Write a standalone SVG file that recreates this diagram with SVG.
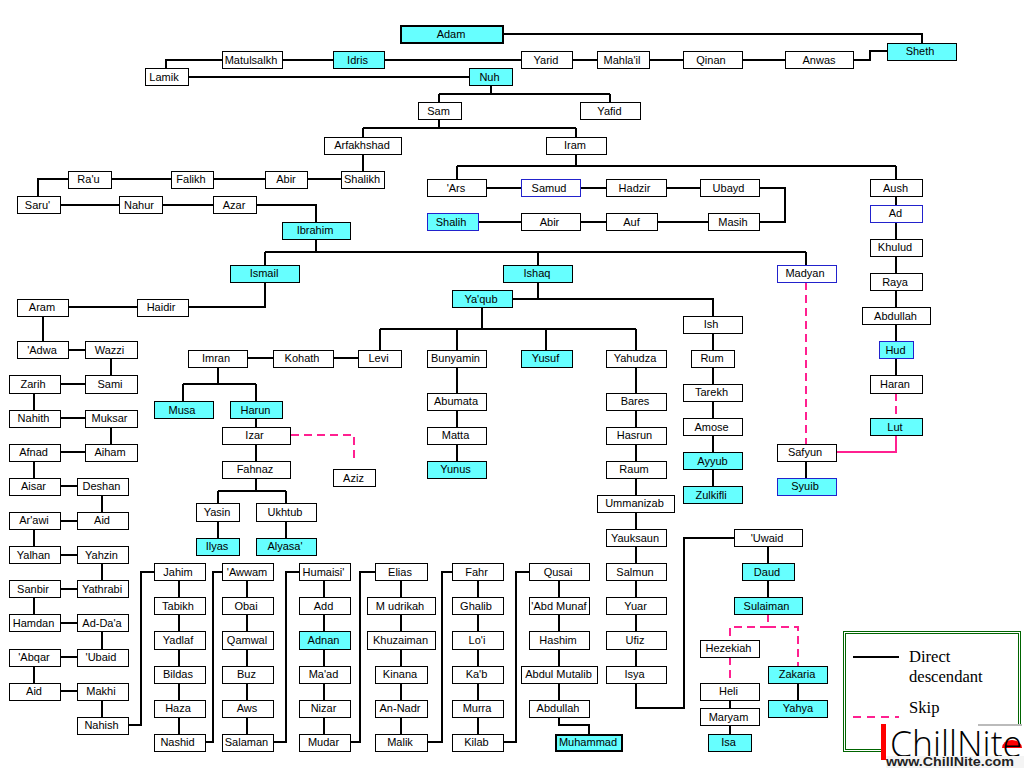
<svg xmlns="http://www.w3.org/2000/svg" width="1024" height="768" viewBox="0 0 1024 768">
<style>
text{font-family:"Liberation Sans",Arial,sans-serif;font-size:11px;fill:#000;text-anchor:middle}
rect.n{fill:#fff;stroke:#000;stroke-width:1}
rect.c{fill:#66ffff}
rect.b{stroke:#2222cc}
rect.t{stroke-width:2}
.k path{fill:none;stroke:#000;stroke-width:2}
.p path{fill:none;stroke:#ff2090;stroke-width:2}
.d path{stroke-dasharray:8 5}
.lg{font-family:"Liberation Serif","Times New Roman",serif;font-size:16.6px;text-anchor:start}
</style>
<rect width="1024" height="768" fill="#fff"/>
<g id="connectors">
<g class="k"><path d="M503 34H922V43M887 51H870V60H853M853 60H222M222 60H166V68M188 77H469M491 85V94M439 94H610M439 94V102M610 94V102M439 119V128M363 128H576M363 128V137M576 128V137M363 154V171M341 179H68M68 179H38V196M60 205H256M256 205H316V222M576 154V166M457 166H896M457 166V179M896 166V179M486 188H700M700 188H785V222H759M759 222H478M896 196V205M896 222V375"/>
<path d="M806 461V478M316 239V252M265 252H806M265 252V265M538 252V265M806 252V265M265 282V307H68M43 316V341M68 350H85M111 358V375M60 384H85M34 393V410M60 418H85M111 427V444M60 452H85M34 461V478M60 486H77M102 495V512M60 521H77M34 529V546M60 555H77M102 563V580M60 589H77M34 597V614M60 623H77M102 631V649M60 657H77M34 666V683M60 691H77M102 700V717"/>
<path d="M128 725H141V572H154M179 580V734M205 742H213V572H222M247 580V734M273 742H286V572H299M324 580V734M350 742H360V572H375M401 580V734M427 742H442V572H452M478 580V734M503 742H516V572H529M559 580V717M559 717V725H589V734"/>
<path d="M538 282V299M512 299H713V316M482 307V329M380 329H636M380 329V350M457 329V350M546 329V350M636 329V350M457 367V461M636 367V683M636 683V708H684V538H734M768 546V597M730 700V708M730 725V734M798 683V700M713 333V486M247 358H358M218 367V384M183 384H256M183 384V401M256 384V401M256 418V461M256 478V491M218 491H286M218 491V503M286 491V503M218 521V538M286 521V538"/></g>
<g class="p"><path d="M896 435V452H836"/></g>
<g class="p d"><path d="M896 393V418M806 282V444M768 614V627M768 627H730V640M768 627H798V666M730 657V683M291 435H354V463"/></g>
</g>
<g id="n-adam"><rect class="n c t" x="401" y="26" width="102" height="17"/><text x="451" y="38">Adam</text></g>
<g id="n-sheth"><rect class="n c" x="887.5" y="43.5" width="69" height="17"/><text x="920" y="55">Sheth</text></g>
<g id="n-matulsalkh"><rect class="n" x="222.5" y="51.5" width="60" height="17"/><text x="251" y="64">Matulsalkh</text></g>
<g id="n-idris"><rect class="n c" x="333.5" y="51.5" width="51" height="17"/><text x="357.5" y="64">Idris</text></g>
<g id="n-yarid"><rect class="n" x="521.5" y="51.5" width="51" height="17"/><text x="546" y="64">Yarid</text></g>
<g id="n-mahlail"><rect class="n" x="597.5" y="51.5" width="52" height="17"/><text x="622" y="64">Mahla'il</text></g>
<g id="n-qinan"><rect class="n" x="683.5" y="51.5" width="59" height="17"/><text x="711" y="64">Qinan</text></g>
<g id="n-anwas"><rect class="n" x="785.5" y="51.5" width="68" height="17"/><text x="819" y="64">Anwas</text></g>
<g id="n-lamik"><rect class="n" x="145.5" y="68.5" width="43" height="17"/><text x="164" y="81">Lamik</text></g>
<g id="n-nuh"><rect class="n c" x="469.5" y="68.5" width="43" height="17"/><text x="489.500" y="81">Nuh</text></g>
<g id="n-sam"><rect class="n" x="418.500" y="102.500" width="43" height="17"/><text x="438.500" y="115">Sam</text></g>
<g id="n-yafid"><rect class="n" x="580.500" y="102.500" width="60" height="17"/><text x="609.500" y="115">Yafid</text></g>
<g id="n-arfakhshad"><rect class="n" x="324.500" y="137.500" width="77" height="17"/><text x="362" y="149">Arfakhshad</text></g>
<g id="n-iram"><rect class="n" x="546.500" y="137.500" width="60" height="17"/><text x="575" y="149">Iram</text></g>
<g id="n-shalikh"><rect class="n" x="341.500" y="171.500" width="43" height="17"/><text x="362" y="183">Shalikh</text></g>
<g id="n-abir"><rect class="n" x="265.500" y="171.500" width="42" height="17"/><text x="286" y="183">Abir</text></g>
<g id="n-falikh"><rect class="n" x="171.500" y="171.500" width="42" height="17"/><text x="191" y="183">Falikh</text></g>
<g id="n-rau"><rect class="n" x="68.500" y="171.500" width="43" height="17"/><text x="88.500" y="183">Ra'u</text></g>
<g id="n-ars"><rect class="n" x="427.500" y="179.500" width="59" height="17"/><text x="456" y="192">'Ars</text></g>
<g id="n-samud"><rect class="n b" x="521.500" y="179.500" width="59" height="17"/><text x="549" y="192">Samud</text></g>
<g id="n-hadzir"><rect class="n" x="606.500" y="179.500" width="60" height="17"/><text x="634.500" y="192">Hadzir</text></g>
<g id="n-ubayd"><rect class="n" x="700.500" y="179.500" width="59" height="17"/><text x="728.500" y="192">Ubayd</text></g>
<g id="n-aush"><rect class="n" x="870.500" y="179.500" width="52" height="17"/><text x="895.500" y="192">Aush</text></g>
<g id="n-saru"><rect class="n" x="17.500" y="196.500" width="43" height="17"/><text x="37.500" y="209">Saru'</text></g>
<g id="n-nahur"><rect class="n" x="119.500" y="196.500" width="43" height="17"/><text x="139" y="209">Nahur</text></g>
<g id="n-azar"><rect class="n" x="213.500" y="196.500" width="43" height="17"/><text x="234" y="209">Azar</text></g>
<g id="n-ad"><rect class="n b" x="870.500" y="205.500" width="52" height="17"/><text x="895.500" y="217">Ad</text></g>
<g id="n-shalih"><rect class="n c b" x="427.500" y="213.500" width="51" height="17"/><text x="451" y="226">Shalih</text></g>
<g id="n-abir2"><rect class="n" x="521.500" y="213.500" width="59" height="17"/><text x="549.500" y="226">Abir</text></g>
<g id="n-auf"><rect class="n" x="606.500" y="213.500" width="51" height="17"/><text x="631.500" y="226">Auf</text></g>
<g id="n-masih"><rect class="n" x="708.500" y="213.500" width="51" height="17"/><text x="733" y="226">Masih</text></g>
<g id="n-ibrahim"><rect class="n c" x="282.500" y="222.500" width="68" height="17"/><text x="315" y="234">Ibrahim</text></g>
<g id="n-khulud"><rect class="n" x="870.500" y="239.500" width="52" height="17"/><text x="895" y="251">Khulud</text></g>
<g id="n-ismail"><rect class="n c" x="230.500" y="265.500" width="69" height="17"/><text x="264" y="277">Ismail</text></g>
<g id="n-ishaq"><rect class="n c" x="503.500" y="265.500" width="69" height="17"/><text x="537" y="277">Ishaq</text></g>
<g id="n-madyan"><rect class="n b" x="777.500" y="265.500" width="59" height="17"/><text x="805" y="277">Madyan</text></g>
<g id="n-raya"><rect class="n" x="870.500" y="273.500" width="52" height="17"/><text x="895" y="286">Raya</text></g>
<g id="n-yaqub"><rect class="n c" x="452.500" y="290.500" width="60" height="17"/><text x="481" y="303">Ya'qub</text></g>
<g id="n-aram"><rect class="n" x="17.500" y="299.500" width="51" height="17"/><text x="42" y="311">Aram</text></g>
<g id="n-haidir"><rect class="n" x="137.500" y="299.500" width="51" height="17"/><text x="161" y="311">Haidir</text></g>
<g id="n-abdullah-r"><rect class="n" x="862.500" y="307.500" width="68" height="17"/><text x="895.500" y="320">Abdullah</text></g>
<g id="n-ish"><rect class="n" x="683.500" y="316.500" width="59" height="17"/><text x="711" y="328">Ish</text></g>
<g id="n-adwa"><rect class="n" x="17.500" y="341.500" width="51" height="17"/><text x="42" y="354">'Adwa</text></g>
<g id="n-wazzi"><rect class="n" x="85.500" y="341.500" width="52" height="17"/><text x="109.500" y="354">Wazzi</text></g>
<g id="n-hud"><rect class="n c b" x="879.500" y="341.500" width="34" height="17"/><text x="895.500" y="354">Hud</text></g>
<g id="n-imran"><rect class="n" x="188.500" y="350.500" width="59" height="17"/><text x="216" y="362">Imran</text></g>
<g id="n-kohath"><rect class="n" x="273.500" y="350.500" width="60" height="17"/><text x="302" y="362">Kohath</text></g>
<g id="n-levi"><rect class="n" x="358.500" y="350.500" width="43" height="17"/><text x="378.500" y="362">Levi</text></g>
<g id="n-bunyamin"><rect class="n" x="427.500" y="350.500" width="59" height="17"/><text x="455.500" y="362">Bunyamin</text></g>
<g id="n-yusuf"><rect class="n c" x="521.500" y="350.500" width="51" height="17"/><text x="545.500" y="362">Yusuf</text></g>
<g id="n-yahudza"><rect class="n" x="606.500" y="350.500" width="60" height="17"/><text x="635" y="362">Yahudza</text></g>
<g id="n-rum"><rect class="n" x="691.500" y="350.500" width="43" height="17"/><text x="712" y="362">Rum</text></g>
<g id="n-zarih"><rect class="n" x="9.500" y="375.500" width="51" height="18"/><text x="33" y="388">Zarih</text></g>
<g id="n-sami"><rect class="n" x="85.500" y="375.500" width="52" height="18"/><text x="110" y="388">Sami</text></g>
<g id="n-haran"><rect class="n" x="870.500" y="375.500" width="52" height="18"/><text x="895" y="388">Haran</text></g>
<g id="n-tarekh"><rect class="n" x="683.500" y="384.500" width="59" height="17"/><text x="711.500" y="396">Tarekh</text></g>
<g id="n-abumata"><rect class="n" x="427.500" y="393.500" width="59" height="17"/><text x="456" y="405">Abumata</text></g>
<g id="n-bares"><rect class="n" x="606.500" y="393.500" width="60" height="17"/><text x="635" y="405">Bares</text></g>
<g id="n-musa"><rect class="n c" x="154.500" y="401.500" width="59" height="17"/><text x="182" y="414">Musa</text></g>
<g id="n-harun"><rect class="n c" x="230.500" y="401.500" width="52" height="17"/><text x="255.500" y="414">Harun</text></g>
<g id="n-nahith"><rect class="n" x="9.500" y="410.500" width="51" height="17"/><text x="33.500" y="422">Nahith</text></g>
<g id="n-muksar"><rect class="n" x="85.500" y="410.500" width="52" height="17"/><text x="109.500" y="422">Muksar</text></g>
<g id="n-amose"><rect class="n" x="683.500" y="418.500" width="59" height="17"/><text x="711.500" y="431">Amose</text></g>
<g id="n-lut"><rect class="n c" x="870.500" y="418.500" width="52" height="17"/><text x="895" y="431">Lut</text></g>
<g id="n-izar"><rect class="n" x="222.500" y="427.500" width="68" height="17"/><text x="254.500" y="439">Izar</text></g>
<g id="n-matta"><rect class="n" x="427.500" y="427.500" width="59" height="17"/><text x="455.500" y="439">Matta</text></g>
<g id="n-hasrun"><rect class="n" x="606.500" y="427.500" width="60" height="17"/><text x="634.500" y="439">Hasrun</text></g>
<g id="n-afnad"><rect class="n" x="9.500" y="444.500" width="51" height="17"/><text x="33.500" y="456">Afnad</text></g>
<g id="n-aiham"><rect class="n" x="85.500" y="444.500" width="52" height="17"/><text x="110" y="456">Aiham</text></g>
<g id="n-safyun"><rect class="n" x="777.500" y="444.500" width="59" height="17"/><text x="805" y="456">Safyun</text></g>
<g id="n-ayyub"><rect class="n c" x="683.500" y="452.500" width="59" height="17"/><text x="712.500" y="465">Ayyub</text></g>
<g id="n-fahnaz"><rect class="n" x="222.500" y="461.500" width="68" height="17"/><text x="255" y="473">Fahnaz</text></g>
<g id="n-yunus"><rect class="n c" x="427.500" y="461.500" width="59" height="17"/><text x="455.500" y="473">Yunus</text></g>
<g id="n-raum"><rect class="n" x="606.500" y="461.500" width="60" height="17"/><text x="634" y="473">Raum</text></g>
<g id="n-aziz"><rect class="n" x="333.500" y="469.500" width="42" height="17"/><text x="353.500" y="482">Aziz</text></g>
<g id="n-aisar"><rect class="n" x="9.500" y="478.500" width="51" height="17"/><text x="33.500" y="490">Aisar</text></g>
<g id="n-deshan"><rect class="n" x="77.500" y="478.500" width="51" height="17"/><text x="101.500" y="490">Deshan</text></g>
<g id="n-syuib"><rect class="n c b" x="777.500" y="478.500" width="59" height="17"/><text x="805" y="490">Syuib</text></g>
<g id="n-zulkifli"><rect class="n c" x="683.500" y="486.500" width="59" height="17"/><text x="711" y="499">Zulkifli</text></g>
<g id="n-ummanizab"><rect class="n" x="597.500" y="495.500" width="77" height="17"/><text x="634.500" y="507">Ummanizab</text></g>
<g id="n-yasin"><rect class="n" x="196.500" y="503.500" width="43" height="18"/><text x="217" y="516">Yasin</text></g>
<g id="n-ukhtub"><rect class="n" x="256.500" y="503.500" width="60" height="18"/><text x="285" y="516">Ukhtub</text></g>
<g id="n-arawi"><rect class="n" x="9.500" y="512.500" width="51" height="17"/><text x="34" y="524">Ar'awi</text></g>
<g id="n-aid"><rect class="n" x="77.500" y="512.500" width="51" height="17"/><text x="102" y="524">Aid</text></g>
<g id="n-yauksaun"><rect class="n" x="606.500" y="529.500" width="60" height="17"/><text x="635" y="542">Yauksaun</text></g>
<g id="n-uwaid"><rect class="n" x="734.500" y="529.500" width="68" height="17"/><text x="767" y="542">'Uwaid</text></g>
<g id="n-ilyas"><rect class="n c" x="196.500" y="538.500" width="43" height="17"/><text x="217" y="550">Ilyas</text></g>
<g id="n-alyasa"><rect class="n c" x="256.500" y="538.500" width="60" height="17"/><text x="285" y="550">Alyasa'</text></g>
<g id="n-yalhan"><rect class="n" x="9.500" y="546.500" width="51" height="17"/><text x="33.500" y="559">Yalhan</text></g>
<g id="n-yahzin"><rect class="n" x="77.500" y="546.500" width="51" height="17"/><text x="101.500" y="559">Yahzin</text></g>
<g id="n-jahim"><rect class="n" x="154.500" y="563.500" width="51" height="17"/><text x="178" y="576">Jahim</text></g>
<g id="n-awwam"><rect class="n" x="222.500" y="563.500" width="51" height="17"/><text x="247" y="576">'Awwam</text></g>
<g id="n-humaisi"><rect class="n" x="299.500" y="563.500" width="51" height="17"/><text x="323.500" y="576">Humaisi'</text></g>
<g id="n-elias"><rect class="n" x="375.500" y="563.500" width="52" height="17"/><text x="400" y="576">Elias</text></g>
<g id="n-fahr"><rect class="n" x="452.500" y="563.500" width="51" height="17"/><text x="476.500" y="576">Fahr</text></g>
<g id="n-qusai"><rect class="n" x="529.500" y="563.500" width="60" height="17"/><text x="558" y="576">Qusai</text></g>
<g id="n-salmun"><rect class="n" x="606.500" y="563.500" width="60" height="17"/><text x="635" y="576">Salmun</text></g>
<g id="n-daud"><rect class="n c" x="742.500" y="563.500" width="52" height="17"/><text x="767" y="576">Daud</text></g>
<g id="n-sanbir"><rect class="n" x="9.500" y="580.500" width="51" height="17"/><text x="33" y="593">Sanbir</text></g>
<g id="n-yathrabi"><rect class="n" x="77.500" y="580.500" width="51" height="17"/><text x="102" y="593">Yathrabi</text></g>
<g id="n-tabikh"><rect class="n" x="154.500" y="597.500" width="51" height="17"/><text x="178" y="610">Tabikh</text></g>
<g id="n-obai"><rect class="n" x="222.500" y="597.500" width="51" height="17"/><text x="246" y="610">Obai</text></g>
<g id="n-add"><rect class="n" x="299.500" y="597.500" width="51" height="17"/><text x="323.500" y="610">Add</text></g>
<g id="n-mudrikah"><rect class="n" x="367.500" y="597.500" width="68" height="17"/><text x="400" y="610">M udrikah</text></g>
<g id="n-ghalib"><rect class="n" x="452.500" y="597.500" width="51" height="17"/><text x="476" y="610">Ghalib</text></g>
<g id="n-abdmunaf"><rect class="n" x="529.500" y="597.500" width="60" height="17"/><text x="559" y="610">'Abd Munaf</text></g>
<g id="n-yuar"><rect class="n" x="606.500" y="597.500" width="60" height="17"/><text x="635.500" y="610">Yuar</text></g>
<g id="n-sulaiman"><rect class="n c" x="734.500" y="597.500" width="68" height="17"/><text x="766.500" y="610">Sulaiman</text></g>
<g id="n-hamdan"><rect class="n" x="9.500" y="614.500" width="51" height="17"/><text x="33.500" y="627">Hamdan</text></g>
<g id="n-addaa"><rect class="n" x="77.500" y="614.500" width="51" height="17"/><text x="102" y="627">Ad-Da'a</text></g>
<g id="n-yadlaf"><rect class="n" x="154.500" y="631.500" width="51" height="18"/><text x="178" y="644">Yadlaf</text></g>
<g id="n-qamwal"><rect class="n" x="222.500" y="631.500" width="51" height="18"/><text x="247" y="644">Qamwal</text></g>
<g id="n-adnan"><rect class="n c" x="299.500" y="631.500" width="51" height="18"/><text x="323.500" y="644">Adnan</text></g>
<g id="n-khuzaiman"><rect class="n" x="367.500" y="631.500" width="68" height="18"/><text x="400.500" y="644">Khuzaiman</text></g>
<g id="n-loi"><rect class="n" x="452.500" y="631.500" width="51" height="18"/><text x="477" y="644">Lo'i</text></g>
<g id="n-hashim"><rect class="n" x="529.500" y="631.500" width="60" height="18"/><text x="558" y="644">Hashim</text></g>
<g id="n-ufiz"><rect class="n" x="606.500" y="631.500" width="60" height="18"/><text x="635" y="644">Ufiz</text></g>
<g id="n-hezekiah"><rect class="n" x="700.500" y="640.500" width="59" height="17"/><text x="728.500" y="652">Hezekiah</text></g>
<g id="n-abqar"><rect class="n" x="9.500" y="649.500" width="51" height="17"/><text x="34" y="661">'Abqar</text></g>
<g id="n-ubaid"><rect class="n" x="77.500" y="649.500" width="51" height="17"/><text x="101" y="661">'Ubaid</text></g>
<g id="n-bildas"><rect class="n" x="154.500" y="666.500" width="51" height="17"/><text x="178" y="678">Bildas</text></g>
<g id="n-buz"><rect class="n" x="222.500" y="666.500" width="51" height="17"/><text x="246.500" y="678">Buz</text></g>
<g id="n-maad"><rect class="n" x="299.500" y="666.500" width="51" height="17"/><text x="323.500" y="678">Ma'ad</text></g>
<g id="n-kinana"><rect class="n" x="375.500" y="666.500" width="52" height="17"/><text x="400" y="678">Kinana</text></g>
<g id="n-kab"><rect class="n" x="452.500" y="666.500" width="51" height="17"/><text x="476.500" y="678">Ka'b</text></g>
<g id="n-abdulmutalib"><rect class="n" x="521.500" y="666.500" width="76" height="17"/><text x="558.500" y="678">Abdul Mutalib</text></g>
<g id="n-isya"><rect class="n" x="606.500" y="666.500" width="60" height="17"/><text x="634.500" y="678">Isya</text></g>
<g id="n-zakaria"><rect class="n c" x="768.500" y="666.500" width="59" height="17"/><text x="797" y="678">Zakaria</text></g>
<g id="n-aid2"><rect class="n" x="9.500" y="683.500" width="51" height="17"/><text x="34" y="695">Aid</text></g>
<g id="n-makhi"><rect class="n" x="77.500" y="683.500" width="51" height="17"/><text x="101" y="695">Makhi</text></g>
<g id="n-heli"><rect class="n" x="700.500" y="683.500" width="59" height="17"/><text x="728.500" y="695">Heli</text></g>
<g id="n-haza"><rect class="n" x="154.500" y="700.500" width="51" height="17"/><text x="178" y="712">Haza</text></g>
<g id="n-aws"><rect class="n" x="222.500" y="700.500" width="51" height="17"/><text x="247" y="712">Aws</text></g>
<g id="n-nizar"><rect class="n" x="299.500" y="700.500" width="51" height="17"/><text x="323.500" y="712">Nizar</text></g>
<g id="n-annadr"><rect class="n" x="375.500" y="700.500" width="52" height="17"/><text x="400" y="712">An-Nadr</text></g>
<g id="n-murra"><rect class="n" x="452.500" y="700.500" width="51" height="17"/><text x="477" y="712">Murra</text></g>
<g id="n-abdullah"><rect class="n" x="529.500" y="700.500" width="60" height="17"/><text x="558" y="712">Abdullah</text></g>
<g id="n-yahya"><rect class="n c" x="768.500" y="700.500" width="59" height="17"/><text x="798" y="712">Yahya</text></g>
<g id="n-maryam"><rect class="n" x="700.500" y="708.500" width="59" height="17"/><text x="728.500" y="721">Maryam</text></g>
<g id="n-nahish"><rect class="n" x="77.500" y="717.500" width="51" height="17"/><text x="101.500" y="729">Nahish</text></g>
<g id="n-nashid"><rect class="n" x="154.500" y="734.500" width="51" height="17"/><text x="177.500" y="746">Nashid</text></g>
<g id="n-salaman"><rect class="n" x="222.500" y="734.500" width="51" height="17"/><text x="246.500" y="746">Salaman</text></g>
<g id="n-mudar"><rect class="n" x="299.500" y="734.500" width="51" height="17"/><text x="323.500" y="746">Mudar</text></g>
<g id="n-malik"><rect class="n" x="375.500" y="734.500" width="52" height="17"/><text x="400" y="746">Malik</text></g>
<g id="n-kilab"><rect class="n" x="452.500" y="734.500" width="51" height="17"/><text x="476.500" y="746">Kilab</text></g>
<g id="n-muhammad"><rect class="n c t" x="556" y="735" width="66" height="16"/><text x="588" y="746">Muhammad</text></g>
<g id="n-isa"><rect class="n c" x="708.500" y="734.500" width="43" height="17"/><text x="728.500" y="746">Isa</text></g>
<g id="legend">
<rect x="843.500" y="631.500" width="177" height="120" fill="#fff" stroke="#006400"/>
<rect x="845.500" y="633.500" width="173" height="116" fill="none" stroke="#006400"/>
<path d="M853 657H899" stroke="#000" stroke-width="2"/>
<path d="M853 717H899" stroke="#ff2090" stroke-width="2" stroke-dasharray="8 6"/>
<text class="lg" x="909" y="662">Direct</text>
<text class="lg" x="909" y="682">descendant</text>
<text class="lg" x="909" y="713">Skip</text>
</g>
<g id="logo">
<rect x="881" y="724" width="143" height="44" fill="#fff"/>
<rect x="978" y="724" width="44" height="2" fill="#bbb"/>
<rect x="881" y="724" width="5" height="36" fill="#f00"/>
<path d="M1002 748A10 8 0 0 1 1022 748Z" fill="#f00"/>
<text x="890" y="757" textLength="132" lengthAdjust="spacingAndGlyphs" style="font-family:'Open Sans','Liberation Sans',sans-serif;font-size:36px;font-weight:300;text-anchor:start">ChillNite</text>
<rect x="886" y="756" width="138" height="12" fill="#f4f4f4"/>
<text x="886" y="766" textLength="128" lengthAdjust="spacingAndGlyphs" style="font-size:13px;font-weight:bold;fill:#222;text-anchor:start">www.ChillNite.com</text>
</g>
</svg>
